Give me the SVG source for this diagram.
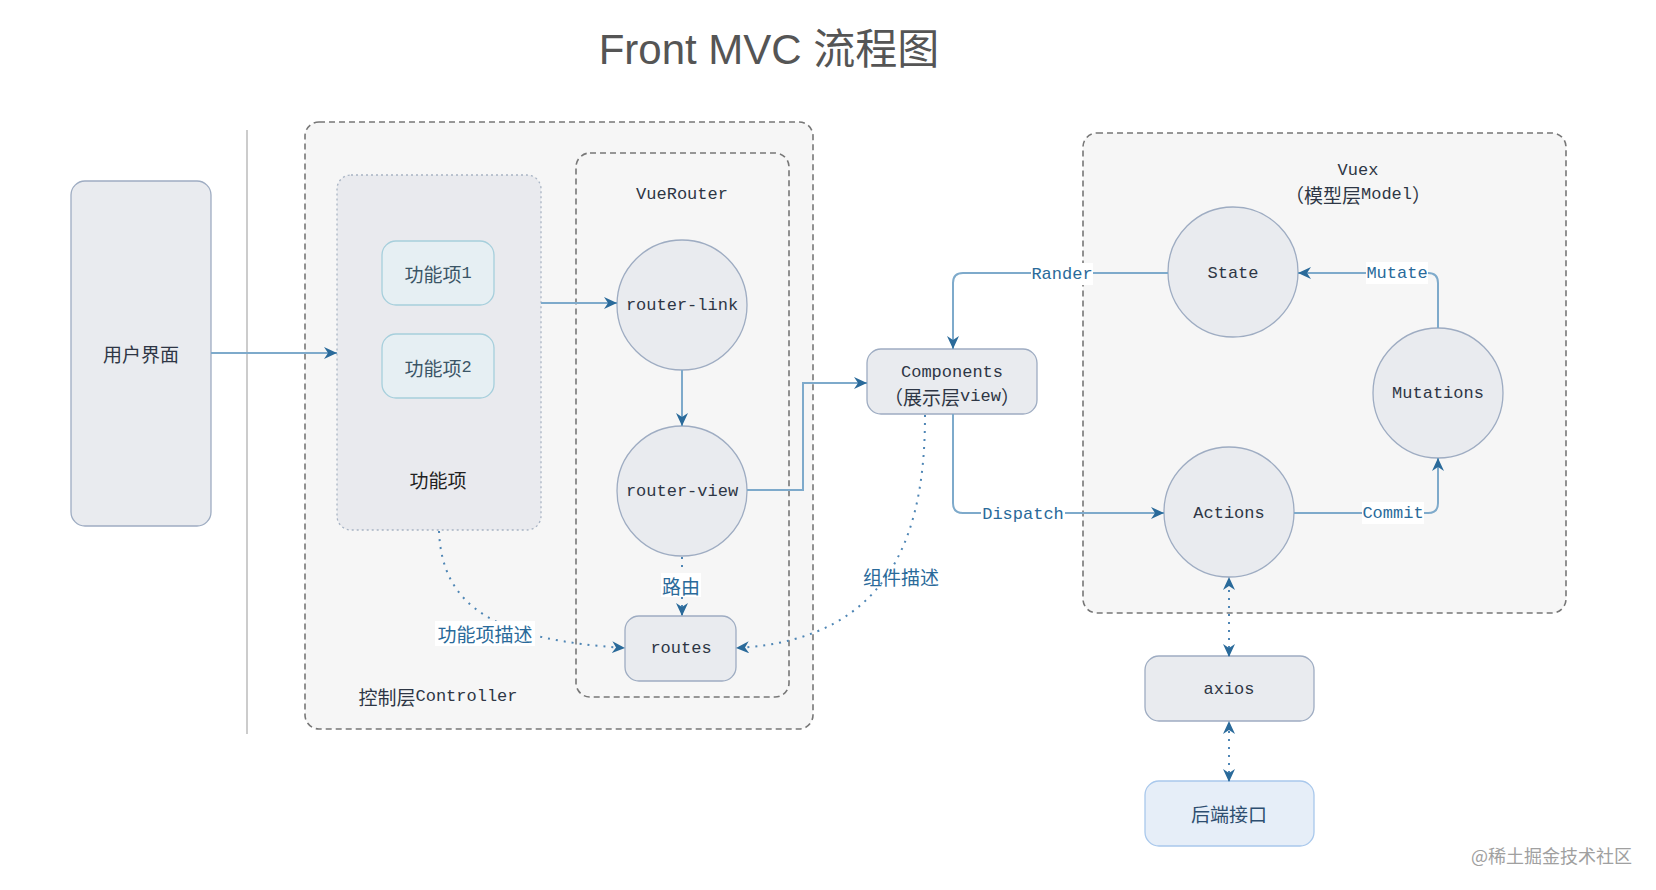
<svg xmlns="http://www.w3.org/2000/svg" width="1656" height="890" viewBox="0 0 1656 890">
<style>
.t{font-family:"Liberation Mono","Noto Sans CJK SC",monospace;font-size:17px;fill:#2e3645;text-anchor:middle;dominant-baseline:central}
.cj{font-family:"Noto Sans CJK SC","Liberation Mono",sans-serif;font-size:19px}
.lb{fill:#2a6a9a}
.node{fill:#e9ebef;stroke:#9eacc2;stroke-width:1.3}
.cont{fill:#f6f6f6;stroke:#777;stroke-width:1.6;stroke-dasharray:6 4}
.ln{fill:none;stroke:#7eaacb;stroke-width:2;marker-end:url(#ah)}
.dot{fill:none;stroke:#4f86b5;stroke-width:2;stroke-dasharray:2 6}
.bg{fill:#fff}
</style>
<defs>
<marker id="ah" markerUnits="userSpaceOnUse" markerWidth="14" markerHeight="12" refX="13" refY="6" orient="auto">
<path d="M0,0 L13,6 L0,12 L4,6 z" fill="#2a6a9a"/>
</marker>
<marker id="as" markerUnits="userSpaceOnUse" markerWidth="14" markerHeight="12" refX="1" refY="6" orient="auto">
<path d="M13,0 L0,6 L13,12 L9,6 z" fill="#2a6a9a"/>
</marker>
</defs>
<rect width="1656" height="890" fill="#fff"/>
<text x="769" y="64" font-family="'Liberation Sans','Noto Sans CJK SC',sans-serif" font-size="42" fill="#555" text-anchor="middle">Front MVC 流程图</text>
<line x1="247" y1="130" x2="247" y2="734" stroke="#bbb" stroke-width="1.5"/>

<g id="controller">
<rect class="cont" x="305" y="122" width="508" height="607" rx="14"/>
<text class="t" x="438" y="696"><tspan class="cj">控制层</tspan>Controller</text>
</g>
<g id="vuerouter">
<rect class="cont" x="576" y="153" width="213" height="544" rx="14"/>
<text class="t" x="682" y="194">VueRouter</text>
</g>
<g id="vuex">
<rect class="cont" x="1083" y="133" width="483" height="480" rx="14"/>
<text class="t" x="1358" y="170">Vuex</text>
<text class="t" x="1358" y="194"><tspan class="cj">（模型层</tspan>Model<tspan class="cj">）</tspan></text>
</g>

<g id="user">
<rect class="node" x="71" y="181" width="140" height="345" rx="14"/>
<text class="t cj" x="141" y="353">用户界面</text>
</g>
<g id="features">
<rect x="337" y="175" width="204" height="355" rx="14" fill="#e9eaee" stroke="#a8b4c4" stroke-width="1.3" stroke-dasharray="2 3"/>
<text class="t cj" x="438" y="479" style="fill:#222">功能项</text>
</g>
<g id="feature1">
<rect x="382" y="241" width="112" height="64" rx="14" fill="#e6eff3" stroke="#a6cfdc" stroke-width="1.3"/>
<text class="t" x="438" y="273" style="fill:#3b5566"><tspan class="cj">功能项</tspan>1</text>
</g>
<g id="feature2">
<rect x="382" y="334" width="112" height="64" rx="14" fill="#e6eff3" stroke="#a6cfdc" stroke-width="1.3"/>
<text class="t" x="438" y="367" style="fill:#3b5566"><tspan class="cj">功能项</tspan>2</text>
</g>
<g id="router-link">
<circle class="node" cx="682" cy="305" r="65"/>
<text class="t" x="682" y="305">router-link</text>
</g>
<g id="router-view">
<circle class="node" cx="682" cy="491" r="65"/>
<text class="t" x="682" y="491">router-view</text>
</g>
<g id="routes">
<rect class="node" x="625" y="616" width="111" height="65" rx="14"/>
<text class="t" x="681" y="648">routes</text>
</g>
<g id="components">
<rect class="node" x="867" y="349" width="170" height="65" rx="14"/>
<text class="t" x="952" y="372">Components</text>
<text class="t" x="952" y="396"><tspan class="cj">（展示层</tspan>view<tspan class="cj">）</tspan></text>
</g>
<g id="state">
<circle class="node" cx="1233" cy="272" r="65"/>
<text class="t" x="1233" y="273">State</text>
</g>
<g id="mutations">
<circle class="node" cx="1438" cy="393" r="65"/>
<text class="t" x="1438" y="393">Mutations</text>
</g>
<g id="actions">
<circle class="node" cx="1229" cy="512" r="65"/>
<text class="t" x="1229" y="513">Actions</text>
</g>
<g id="axios">
<rect class="node" x="1145" y="656" width="169" height="65" rx="14"/>
<text class="t" x="1229" y="689">axios</text>
</g>
<g id="backend">
<rect x="1145" y="781" width="169" height="65" rx="14" fill="#e6eef8" stroke="#a9c8ec" stroke-width="1.3"/>
<text class="t cj" x="1229" y="813" style="fill:#2e4e70">后端接口</text>
</g>

<g id="connectors">
<path class="ln" d="M211,353 H337"/>
<path class="ln" d="M541,303 H617"/>
<path class="ln" d="M682,370 V426"/>
<path class="ln" d="M747,490 H803 V383 H867"/>
<path class="ln" d="M1168,273 H963 Q953,273 953,283 V349"/>
<path class="ln" d="M953,414 V503 Q953,513 963,513 H1164"/>
<path class="ln" d="M1438,328 V283 Q1438,273 1428,273 H1298"/>
<path class="ln" d="M1294,513 H1428 Q1438,513 1438,503 V458"/>
<path class="dot" d="M682,557 V616" marker-end="url(#ah)"/>
<path class="dot" d="M439,531 C442,610 500,640 625,648" marker-end="url(#ah)"/>
<path class="dot" d="M925,415 C925,520 900,640 736,648" marker-end="url(#ah)"/>
<path class="dot" d="M1229,656 V577" marker-end="url(#ah)" marker-start="url(#as)"/>
<path class="dot" d="M1229,781 V721" marker-end="url(#ah)" marker-start="url(#as)"/>
<rect class="bg" x="1031" y="263" width="62" height="22"/>
<text class="t lb" x="1062" y="274">Rander</text>
<rect class="bg" x="981" y="503" width="84" height="22"/>
<text class="t lb" x="1023" y="514">Dispatch</text>
<rect class="bg" x="1366" y="262" width="62" height="22"/>
<text class="t lb" x="1397" y="273">Mutate</text>
<rect class="bg" x="1362" y="502" width="62" height="22"/>
<text class="t lb" x="1393" y="513">Commit</text>
<rect class="bg" x="661" y="573" width="40" height="24"/>
<text class="t cj lb" x="681" y="585">路由</text>
<rect class="bg" x="435" y="621" width="100" height="25"/>
<text class="t cj lb" x="485" y="633">功能项描述</text>
<text class="t cj lb" x="901" y="576">组件描述</text>
</g>
<text x="1632" y="855" font-family="'Noto Sans CJK SC',sans-serif" font-size="18" fill="#a0a0a0" text-anchor="end" dominant-baseline="central">@稀土掘金技术社区</text>
</svg>
